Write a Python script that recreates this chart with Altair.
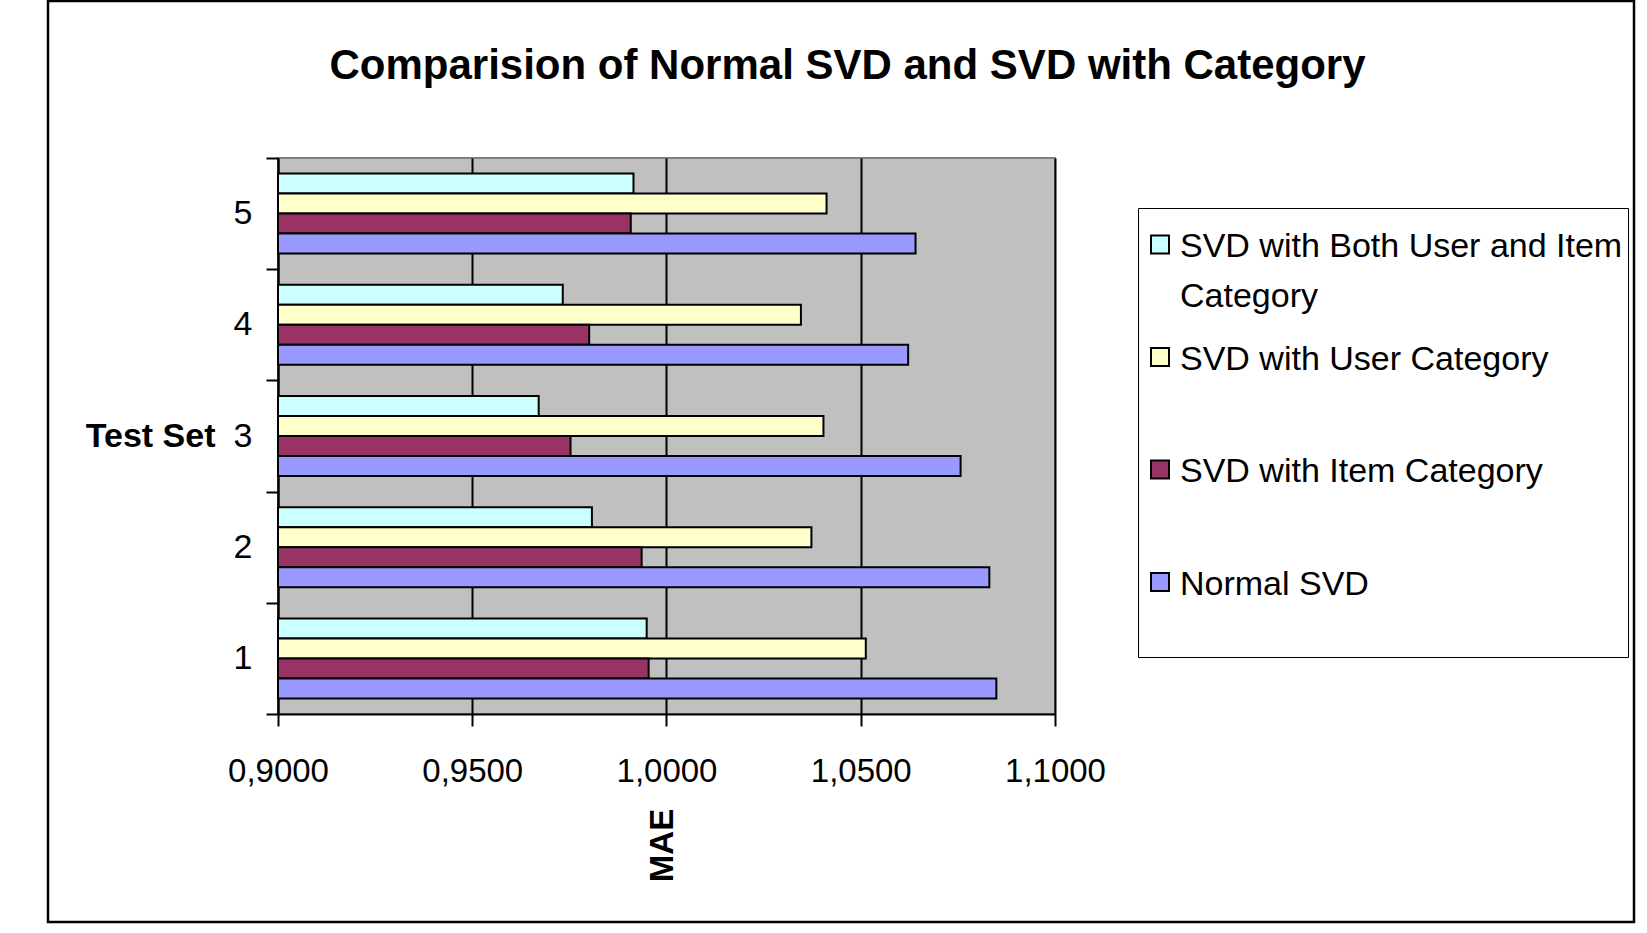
import altair as alt
import pandas as pd

sets = ["1", "2", "3", "4", "5"]
series = ["SVD with Both User and Item Category", "SVD with User Category",
          "SVD with Item Category", "Normal SVD"]
normal_svd = [1.0849, 1.0831, 1.0757, 1.0622, 1.0641]
item_cat = [0.9954, 0.9936, 0.9753, 0.9801, 0.9908]
user_cat = [1.0513, 1.0373, 1.0404, 1.0346, 1.0412]
both_cat = [0.9949, 0.9808, 0.9671, 0.9733, 0.9915]
colors = ["#CCFFFF", "#FFFFCC", "#993366", "#9999FF"]
x_ticks = [0.90, 0.95, 1.00, 1.05, 1.10]

rows = []
for name, vals in zip(series, [both_cat, user_cat, item_cat, normal_svd]):
    for s, v in zip(sets, vals):
        rows.append({"set": s, "series": name, "mae": v})
df = pd.DataFrame(rows)

FONT = "Liberation Sans, Arial, sans-serif"
W, H = 777, 556
L, T = 278, 158

bars = alt.Chart(df).mark_bar(stroke="black", strokeWidth=2).encode(
    y=alt.Y("set:N", sort=sets[::-1],
            scale=alt.Scale(paddingInner=0, paddingOuter=0),
            axis=alt.Axis(title="Test Set", titleAngle=0, titleAlign="right",
                          titleBaseline="middle", titleX=-63, titleY=H / 2,
                          titleFont=FONT, titleFontSize=34, titleFontWeight="bold",
                          titleColor="black",
                          labelFont=FONT, labelFontSize=34, labelColor="black",
                          labelPadding=14, tickBand="extent", tickSize=12,
                          tickColor="black", tickWidth=2, domainColor="black",
                          domainWidth=2, grid=False)),
    yOffset=alt.YOffset("series:N", sort=series,
                        scale=alt.Scale(paddingInner=0, paddingOuter=0.78)),
    x=alt.X("mae:Q", scale=alt.Scale(domain=[0.9, 1.1], zero=False, nice=False),
            axis=alt.Axis(title="MAE", values=x_ticks, labelFlush=False,
                          labelExpr="replace(format(datum.value, '.4f'), '.', ',')",
                          titleAngle=270, titleAlign="center", titleBaseline="middle",
                          titleX=W / 2 - 4, titleY=131,
                          titleFont=FONT, titleFontSize=33, titleFontWeight="bold",
                          titleColor="black",
                          labelFont=FONT, labelFontSize=33, labelColor="black",
                          labelPadding=29, tickSize=12, tickColor="black", tickWidth=2,
                          domainColor="black", domainWidth=2,
                          grid=True, gridColor="black", gridWidth=2, gridOpacity=1)),
    x2=alt.datum(0.9),
    color=alt.Color("series:N", sort=series,
                    scale=alt.Scale(domain=series, range=colors),
                    legend=alt.Legend(
                        title=None, orient="none", legendX=860, legendY=50,
                        labelFont=FONT, labelFontSize=34, labelColor="black",
                        labelLimit=700, labelBaseline="top", labelOffset=3,
                        labelExpr="datum.label == 'SVD with Both User and Item Category' ? ['SVD with Both User and Item', 'Category'] : [datum.label, ' ']",
                        symbolType="M-1,0.6H1V2.6H-1Z", symbolSize=324,
                        symbolStrokeColor="black", symbolStrokeWidth=2,
                        symbolOpacity=1, rowPadding=11.5,
                        strokeColor="black", fillColor="white", padding=5)),
)

frame = alt.Chart(alt.Data(values=[{}])).mark_rect(
    fill="white", fillOpacity=0, stroke="black", strokeWidth=2.5
).encode(
    x=alt.value(48 - L), x2=alt.value(1634 - L),
    y=alt.value(1 - T), y2=alt.value(922 - T),
)

chart = alt.layer(frame, bars).properties(
    width=W, height=H,
    title=alt.TitleParams(
        "Comparision of Normal SVD and SVD with Category",
        font=FONT, fontSize=42, fontWeight="bold", color="black",
        anchor="middle", frame="group", dx=181, offset=-130, baseline="bottom"),
    autosize=alt.AutoSizeParams(type="none"),
    padding={"left": L, "top": T, "right": 1647 - L - W, "bottom": 933 - T - H},
).configure(
    background="white", style={"guide-label": {"lineHeight": 50}}
).configure_view(
    fill="#C0C0C0", stroke="#808080", strokeWidth=2
)

chart.save("out.html", embed_options={"renderer": "svg", "actions": False})
